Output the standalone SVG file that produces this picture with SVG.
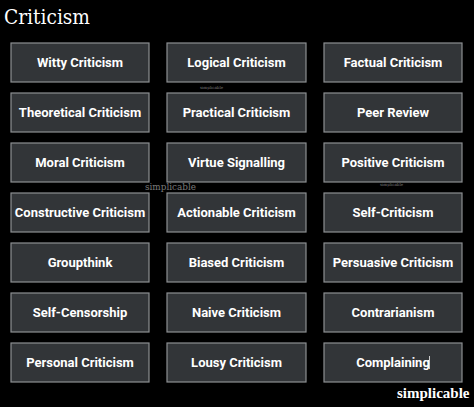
<svg xmlns="http://www.w3.org/2000/svg" width="474" height="407" viewBox="0 0 474 407">
<style>
.box{fill:#323538;stroke:#8c8f92;stroke-width:1.2}
.lbl{font-family:Roboto,"Liberation Sans",sans-serif;font-weight:bold;font-size:13px;fill:#ffffff;text-anchor:middle}
.wm{font-family:"DejaVu Serif","Liberation Serif",serif;fill:#7a7a7a}
</style>
<rect width="474" height="407" fill="#000000"/>
<text x="4" y="24" font-family="'DejaVu Serif','Liberation Serif',serif" font-size="20" fill="#ffffff" textLength="86" lengthAdjust="spacingAndGlyphs">Criticism</text>
<g id="nodes">
<g id="n1"><rect class="box" x="11" y="43" width="138" height="39"/><text class="lbl" x="80" y="67">Witty Criticism</text></g>
<g id="n2"><rect class="box" x="167" y="43" width="139" height="39"/><text class="lbl" x="236.5" y="67">Logical Criticism</text></g>
<g id="n3"><rect class="box" x="324" y="43" width="138" height="39"/><text class="lbl" x="393" y="67">Factual Criticism</text></g>
<g id="n4"><rect class="box" x="11" y="93" width="138" height="39"/><text class="lbl" x="80" y="117">Theoretical Criticism</text></g>
<g id="n5"><rect class="box" x="167" y="93" width="139" height="39"/><text class="lbl" x="236.5" y="117">Practical Criticism</text></g>
<g id="n6"><rect class="box" x="324" y="93" width="138" height="39"/><text class="lbl" x="393" y="117">Peer Review</text></g>
<g id="n7"><rect class="box" x="11" y="143" width="138" height="39"/><text class="lbl" x="80" y="167">Moral Criticism</text></g>
<g id="n8"><rect class="box" x="167" y="143" width="139" height="39"/><text class="lbl" x="236.5" y="167">Virtue Signalling</text></g>
<g id="n9"><rect class="box" x="324" y="143" width="138" height="39"/><text class="lbl" x="393" y="167">Positive Criticism</text></g>
<g id="n10"><rect class="box" x="11" y="193" width="138" height="39"/><text class="lbl" x="80" y="217">Constructive Criticism</text></g>
<g id="n11"><rect class="box" x="167" y="193" width="139" height="39"/><text class="lbl" x="236.5" y="217">Actionable Criticism</text></g>
<g id="n12"><rect class="box" x="324" y="193" width="138" height="39"/><text class="lbl" x="393" y="217">Self-Criticism</text></g>
<g id="n13"><rect class="box" x="11" y="243" width="138" height="39"/><text class="lbl" x="80" y="267">Groupthink</text></g>
<g id="n14"><rect class="box" x="167" y="243" width="139" height="39"/><text class="lbl" x="236.5" y="267">Biased Criticism</text></g>
<g id="n15"><rect class="box" x="324" y="243" width="138" height="39"/><text class="lbl" x="393" y="267">Persuasive Criticism</text></g>
<g id="n16"><rect class="box" x="11" y="293" width="138" height="39"/><text class="lbl" x="80" y="317">Self-Censorship</text></g>
<g id="n17"><rect class="box" x="167" y="293" width="139" height="39"/><text class="lbl" x="236.5" y="317">Naive Criticism</text></g>
<g id="n18"><rect class="box" x="324" y="293" width="138" height="39"/><text class="lbl" x="393" y="317">Contrarianism</text></g>
<g id="n19"><rect class="box" x="11" y="343" width="138" height="39"/><text class="lbl" x="80" y="367">Personal Criticism</text></g>
<g id="n20"><rect class="box" x="167" y="343" width="139" height="39"/><text class="lbl" x="236.5" y="367">Lousy Criticism</text></g>
<g id="n21"><rect class="box" x="324" y="343" width="138" height="39"/><text class="lbl" x="393" y="367">Complaining</text><rect x="429" y="356" width="1" height="13" fill="#cccccc"/></g>
</g>
<g id="connectors"></g>
<text class="wm" x="145" y="190" font-size="10" textLength="51" lengthAdjust="spacingAndGlyphs">simplicable</text>
<text class="wm" x="200" y="89" font-size="4" fill="#555555">simplicable</text>
<text class="wm" x="380" y="186" font-size="4" fill="#555555">simplicable</text>
<text x="397" y="398" font-family="'Liberation Serif',serif" font-weight="bold" font-size="15" fill="#ffffff">simplicable</text>
</svg>
